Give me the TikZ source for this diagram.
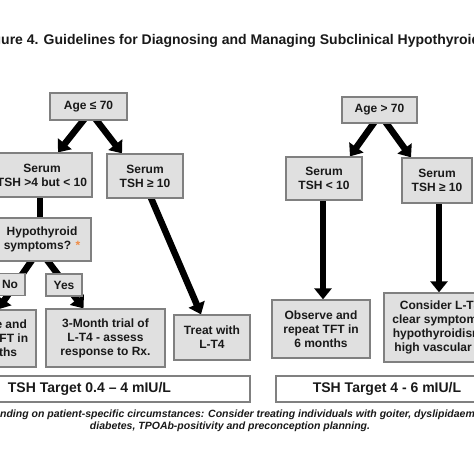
\documentclass[tikz,border=0pt]{standalone}
\usepackage{fontspec}
\setmainfont{Liberation Sans}
\usetikzlibrary{arrows.meta}
\pgfdeclarelayer{bg}
\pgfsetlayers{bg,main}
\definecolor{boxfill}{RGB}{224,224,224}
\definecolor{boxline}{RGB}{128,128,128}
\definecolor{starcol}{RGB}{240,140,70}
\tikzset{
  fbox/.style={draw=boxline, fill=boxfill, line width=1.3pt, align=center, inner sep=0pt,
    font=\fontsize{12}{14}\selectfont\bfseries, text=black!90},
  tbox/.style={draw=boxline, fill=white, line width=1.3pt, inner sep=0pt,
    font=\fontsize{14}{16}\selectfont\bfseries, text=black!90},
  conn/.style={line width=6.5pt, black},
  arr/.style={conn, -{Triangle[length=11pt,width=17pt]}},
  foot/.style={font=\fontsize{10.5}{12}\selectfont\bfseries\itshape, text=black!90, inner sep=0pt}
}
\begin{document}
\begin{tikzpicture}[x=1pt,y=-1pt]
\useasboundingbox (0,0) rectangle (474,474);
\clip (0,0) rectangle (474,474);

% title
\node[anchor=base west, inner sep=0pt, font=\fontsize{14}{16}\selectfont\bfseries, text=black!90] (title) at (-20,44)
  {Figure 4. Guidelines for Diagnosing and Managing Subclinical Hypothyroidism};

% left tree
\node[fbox, minimum width=77pt, minimum height=27pt] (a1) at (88.5,106.5) {Age ≤ 70};
\node[fbox, minimum width=100pt, minimum height=44pt] (s1) at (42,175) {Serum\\TSH >4 but < 10};
\node[fbox, minimum width=76pt, minimum height=44pt] (s2) at (145,176) {Serum\\TSH ≥ 10};
\node[fbox, minimum width=98pt, minimum height=43pt] (h1) at (42,239.5) {Hypothyroid\\symptoms? {\color{starcol}*}};
\node[fbox, minimum width=30pt, minimum height=22pt] (no) at (10,284.5) {No};
\node[fbox, minimum width=36pt, minimum height=22pt] (yes) at (64,285) {Yes};
\node[fbox, minimum width=91pt, minimum height=57pt] (o1) at (-9.5,338.5) {Observe and\\repeat TFT in\\6 months};
\node[fbox, minimum width=119pt, minimum height=58pt] (m1) at (105.5,338) {3-Month trial of\\L-T4 - assess\\response to Rx.};
\node[fbox, minimum width=76pt, minimum height=45pt] (t1) at (212,337.5) {Treat with\\L-T4};

% right tree
\node[fbox, minimum width=75pt, minimum height=26pt] (a2) at (379.5,110) {Age > 70};
\node[fbox, minimum width=76pt, minimum height=43pt] (s3) at (324,178.5) {Serum\\TSH < 10};
\node[fbox, minimum width=70pt, minimum height=45pt] (s4) at (437,180.5) {Serum\\TSH ≥ 10};
\node[fbox, minimum width=98pt, minimum height=58pt] (o2) at (321,329) {Observe and\\repeat TFT in\\6 months};
\node[fbox, minimum width=123pt, minimum height=69pt] (c2) at (445.5,327.5) {Consider L-T4 if\\clear symptoms of\\hypothyroidism or\\high vascular risk};

% targets
\node[tbox, minimum width=321pt, minimum height=26pt] (g1) at (89.5,389) {TSH Target 0.4 – 4 mIU/L};
\node[tbox, minimum width=222pt, minimum height=26pt] (g2) at (387,389) {TSH Target 4 - 6 mIU/L};

% footnote
\node[foot, anchor=base west] (fn1) at (-29.8,417)
  {*Depending on patient-specific circumstances: Consider treating individuals with goiter, dyslipidaemia,};
\node[foot, anchor=base] (fn2) at (230,429)
  {diabetes, TPOAb-positivity and preconception planning.};

% connectors
\begin{pgfonlayer}{bg}
\fill[white] (0,0) rectangle (474,474);
\draw[arr] ([xshift=-3pt,yshift=3pt]a1.south) -- ([xshift=16pt]s1.north);
\draw[arr] ([xshift=6pt,yshift=3pt]a1.south) -- ([xshift=-23pt]s2.north);
\draw[conn] ([xshift=-2pt,yshift=3pt]s1.south) -- ([xshift=-2pt,yshift=-3pt]h1.north);
\draw[arr] ([xshift=-9pt,yshift=3pt]h1.south) -- ([xshift=7.5pt]o1.north);
\draw[arr] ([xshift=4pt,yshift=3pt]h1.south) -- ([xshift=-22pt]m1.north);
\draw[arr] ([xshift=5pt,yshift=3pt]s2.south) -- ([xshift=-11pt]t1.north);
\draw[arr] ([xshift=-4pt,yshift=3pt]a2.south) -- ([xshift=26pt]s3.north);
\draw[arr] ([xshift=5pt,yshift=3pt]a2.south) -- ([xshift=-26pt]s4.north);
\draw[arr] ([xshift=-1pt,yshift=3pt]s3.south) -- ([xshift=-1pt]s3.south |- o2.north);
\draw[arr] ([xshift=2pt,yshift=3pt]s4.south) -- ([xshift=2pt]s4.south |- c2.north);
\end{pgfonlayer}
\end{tikzpicture}
\end{document}
